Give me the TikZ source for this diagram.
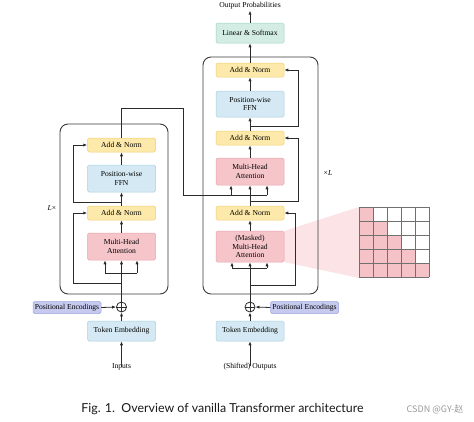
\documentclass[tikz,border=0pt]{standalone}
\usepackage{fontspec}
\setmainfont{Liberation Serif}
\newfontfamily\capfont{Lato}
\newfontfamily\cjk{Noto Sans CJK SC}
\usetikzlibrary{arrows.meta}
\definecolor{anfill}{HTML}{FDE9A9}
\definecolor{andraw}{HTML}{EFCF74}
\definecolor{ffnfill}{HTML}{D4E9F3}
\definecolor{ffndraw}{HTML}{A9D0E3}
\definecolor{mhafill}{HTML}{F5C5CA}
\definecolor{mhadraw}{HTML}{E9A3AB}
\definecolor{lsfill}{HTML}{D3EDE5}
\definecolor{lsdraw}{HTML}{9DD3C2}
\definecolor{pefill}{HTML}{C5CAEE}
\definecolor{pedraw}{HTML}{9AA3DC}
\definecolor{linec}{HTML}{2B2B2B}
\definecolor{outerc}{HTML}{3A3A3A}
\definecolor{wedgec}{HTML}{FBE3E6}
\definecolor{cellc}{HTML}{F4C2C7}
\definecolor{gridc}{HTML}{707070}
\newcommand{\lblfont}{\fontsize{7.6}{8.6}\selectfont}
\begin{document}
\begin{tikzpicture}[x=1pt,y=-1pt,
  blk/.style={rounded corners=1.5pt, line width=0.5pt, align=center, inner sep=0pt, font=\lblfont, text=black, minimum width=68pt},
  an/.style={blk, fill=anfill, draw=andraw, minimum height=14pt},
  ffn/.style={blk, fill=ffnfill, draw=ffndraw, minimum height=27pt},
  mha/.style={blk, fill=mhafill, draw=mhadraw, minimum height=27pt},
  ls/.style={blk, fill=lsfill, draw=lsdraw, minimum height=20pt},
  te/.style={blk, fill=ffnfill, draw=ffndraw, minimum height=20pt},
  pe/.style={blk, fill=pefill, draw=pedraw, minimum height=12pt},
  plainlbl/.style={font=\lblfont, text=black, inner sep=1pt},
  arr/.style={-{Latex[length=4pt,width=3.2pt]}, line width=0.8pt, draw=linec},
  ln/.style={line width=0.8pt, draw=linec},
  outerbox/.style={draw=outerc, line width=0.9pt, rounded corners=8pt},
  addc/.style={circle, draw=linec, line width=0.8pt, minimum size=10pt, inner sep=0pt}
]
\useasboundingbox (0,0) rectangle (474,421);

% mask wedge
\fill[wedgec] (284,231) -- (359,207) -- (359,278) -- (284,262) -- cycle;

% outer boxes
\draw[outerbox] (60,124) rectangle (168,294);
\draw[outerbox] (203,57) rectangle (318,294);
\node[font=\lblfont, text=black] (elabel) at (52,208) {\textit{L}×};
\node[font=\lblfont, text=black] (dlabel) at (328,173) {×\textit{L}};

% ---------------- encoder ----------------
\node[an]  (eAN2) at (121.5,145) {Add \& Norm};
\node[ffn] (eFFN) at (121.5,178.5) {Position-wise\\FFN};
\node[an]  (eAN1) at (121.5,213) {Add \& Norm};
\node[mha] (eMHA) at (121.5,246.5) {Multi-Head\\Attention};
\node[addc] (eplus) at (121.5,307) {};
\node[pe]  (ePE) at (67,307.5) {Positional Encodings};
\node[te]  (eTE) at (121.5,331) {Token Embedding};
\node[plainlbl] (inputs) at (121.5,367) {Inputs};

\draw[ln] (eplus.north) -- (eplus.south) (eplus.west) -- (eplus.east);
\draw[arr] ([yshift=-4pt]inputs.north) -- (eTE.south);
\draw[arr] (eTE.north) -- (eplus.south);
\draw[arr] (ePE.east) -- (eplus.west);

\coordinate (eb)  at (121.5,273);
\coordinate (ebl) at (105,273);
\coordinate (ebr) at (137,273);
\draw[ln] (eplus.north) -- (eb);
\draw[ln] (ebl) -- (ebr);
\draw[arr] (ebl) -- (ebl |- eMHA.south);
\draw[arr] (eb) -- (eMHA.south);
\draw[arr] (ebr) -- (ebr |- eMHA.south);

\coordinate (er1)  at (121.5,283);
\coordinate (er1l) at (73,283);
\draw[arr] (er1) -- (er1l) |- (eAN1.west);
\draw[arr] (eMHA.north) -- (eAN1.south);
\draw[arr] (eAN1.north) -- (eFFN.south);
\coordinate (er2)  at (121.5,202);
\coordinate (er2l) at (73,202);
\draw[arr] (er2) -- (er2l) |- (eAN2.west);
\draw[arr] (eFFN.north) -- (eAN2.south);

% encoder output to decoder
\coordinate (et1) at (121.5,108);
\coordinate (et2) at (183,108);
\coordinate (et3) at (183,195);
\coordinate (et4) at (267,195);
\draw[ln] (eAN2.north) -- (et1) -- (et2) -- (et3) -- (et4);

% ---------------- decoder ----------------
\node[plainlbl] (outp) at (250,6) {Output Probabilities};
\node[ls]  (LS)    at (250,33) {Linear \& Softmax};
\node[an]  (dAN3)  at (250,70) {Add \& Norm};
\node[ffn, minimum height=26pt] (dFFN) at (250,104) {Position-wise\\FFN};
\node[an]  (dAN2)  at (250,138) {Add \& Norm};
\node[mha] (dMHA2) at (250,171.5) {Multi-Head\\Attention};
\node[an]  (dAN1)  at (250,213) {Add \& Norm};
\node[mha, minimum height=31pt] (dMHA1) at (250,246.5) {(Masked)\\Multi-Head\\Attention};
\node[addc] (dplus) at (250,307) {};
\node[pe]  (dPE)   at (304.5,307.5) {Positional Encodings};
\node[te]  (dTE)   at (250,331) {Token Embedding};
\node[plainlbl] (outs) at (250,367) {(Shifted) Outputs};

\draw[ln] (dplus.north) -- (dplus.south) (dplus.west) -- (dplus.east);
\draw[arr] ([yshift=-4pt]outs.north) -- (dTE.south);
\draw[arr] (dTE.north) -- (dplus.south);
\draw[arr] (dPE.west) -- (dplus.east);

\coordinate (db)  at (250,268);
\coordinate (dbl) at (232,268);
\coordinate (dbr) at (267,268);
\draw[ln] (dplus.north) -- (db);
\draw[ln] (dbl) -- (dbr);
\draw[arr] (dbl) -- (dbl |- dMHA1.south);
\draw[arr] (db) -- (dMHA1.south);
\draw[arr] (dbr) -- (dbr |- dMHA1.south);

\coordinate (dr1)  at (250,285);
\coordinate (dr1r) at (295,285);
\draw[arr] (dr1) -- (dr1r) |- (dAN1.east);
\draw[arr] (dMHA1.north) -- (dAN1.south);

\coordinate (dq)  at (250,195);
\coordinate (dr2) at (250,201);
\coordinate (dr2r) at (298,201);
\draw[ln] (dAN1.north) -- (dq);
\draw[arr] (dr2) -- (dr2r) |- (dAN2.east);
\coordinate (ca1) at (231,195);
\draw[arr] (ca1) -- (ca1 |- dMHA2.south);
\draw[arr] (dq) -- (dMHA2.south);
\draw[arr] (et4) -- (et4 |- dMHA2.south);

\draw[arr] (dMHA2.north) -- (dAN2.south);
\draw[arr] (dAN2.north) -- (dFFN.south);
\coordinate (dr3)  at (250,126);
\coordinate (dr3r) at (298,126);
\draw[arr] (dr3) -- (dr3r) |- (dAN3.east);
\draw[arr] (dFFN.north) -- (dAN3.south);
\draw[arr] (dAN3.north) -- (LS.south);
\draw[arr] (LS.north) -- (outp.south);

% ---------------- mask grid ----------------
\foreach \i in {0,...,4}{
  \foreach \j in {0,...,\i}{
    \fill[cellc] (359+14*\j,207+14*\i) rectangle ++(14,14);
  }
}
\foreach \k in {0,...,5}{
  \draw[gridc, line width=0.6pt] (359+14*\k,207) -- (359+14*\k,277);
  \draw[gridc, line width=0.6pt] (359,207+14*\k) -- (429,207+14*\k);
}

% caption and watermark
\node[font=\capfont\fontsize{12.4}{14}\selectfont, text=black!90] (caption) at (222.5,409) {Fig. 1.\ \ Overview of vanilla Transformer architecture};
\node[font=\cjk\fontsize{9}{11}\selectfont, text=black!40] (wm) at (435,409) {CSDN @GY-赵};
\end{tikzpicture}
\end{document}
